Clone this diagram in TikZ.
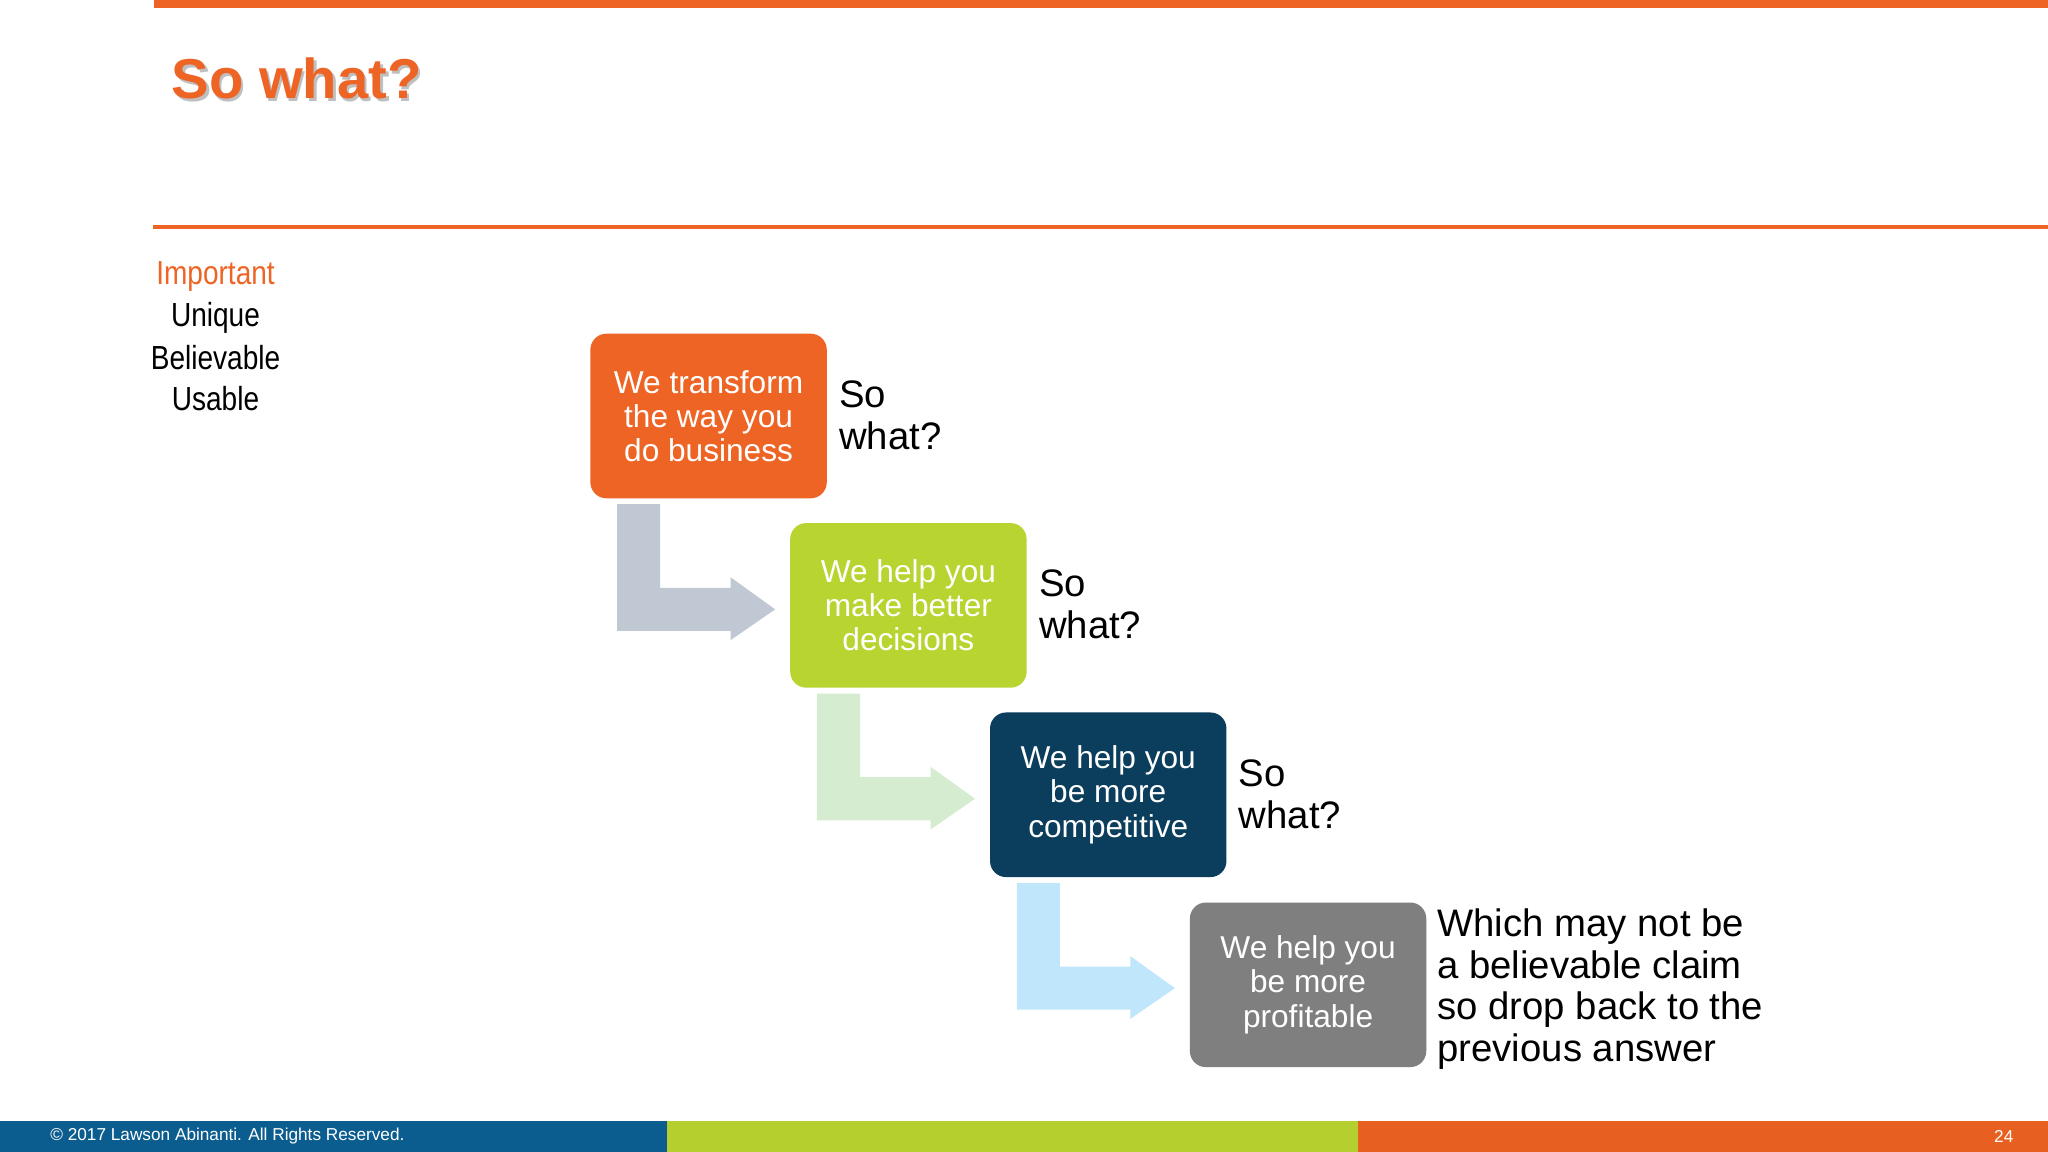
\documentclass[tikz,border=0pt]{standalone}
\usepackage{fontspec}
\setmainfont{Liberation Sans}
\newfontfamily\narrowfont[FakeStretch=0.84]{Liberation Sans}
\usetikzlibrary{positioning}
\definecolor{sworange}{HTML}{EE6425}
\definecolor{swgreen}{HTML}{B8D431}
\definecolor{swnavy}{HTML}{0B3D5C}
\definecolor{swgrey}{HTML}{7F7F80}
\definecolor{fblue}{HTML}{0B5D8F}
\definecolor{fgreen}{HTML}{B5CF2E}
\definecolor{forange}{HTML}{E85F22}
\tikzset{
  stage/.style={rectangle, rounded corners=0.16cm, minimum width=2.364cm, minimum height=1.646cm,
    align=center, text=white, font=\fontsize{9pt}{9.7pt}\selectfont, inner sep=0pt},
  ask/.style={align=left, anchor=north west, inner sep=0pt, font=\fontsize{10.9pt}{11.9pt}\selectfont},
  quality/.style={font=\narrowfont\fontsize{9.5pt}{11pt}\selectfont},
  bend/.pic={
    \fill (21,4) -- (54,4) -- (54,68) -- (108,68) -- (108,60) -- (142,84.5)
      -- (108,108) -- (108,101) -- (21,101) -- cycle;
  }
}
\begin{document}
\begin{tikzpicture}[x=0.013061cm, y=-0.013061cm]
    \useasboundingbox (0,0) rectangle (1568,882);
    \fill[white] (0,0) rectangle (1568,882);
    % header
    \fill[sworange] (118,0) rectangle (1568,6);
    \fill[sworange] (117,172) rectangle (1568,175);
    \node (title) [anchor=west, inner sep=0pt, text=black!25, font=\fontsize{16pt}{19pt}\selectfont\bfseries] at (133,62) {So what?};
    \node (titletop) [anchor=west, inner sep=0pt, text=sworange, font=\fontsize{16pt}{19pt}\selectfont\bfseries] at (131,60) {So what?};
    % list
    \node (important) [quality, text=sworange] at (165,212) {Important};
    \node (unique) [quality] at (165,243) {Unique};
    \node (believable) [quality] at (165,274) {Believable};
    \node (usable) [quality] at (165,305) {Usable};
    % stages
    \node (transform) [stage, fill=sworange] at (542.5,318.5) {We transform\\the way you\\do business};
    \node (decide) [stage, fill=swgreen] at (695.5,463.5) {We help you\\make better\\decisions};
    \node (compete) [stage, fill=swnavy] at (848.5,608.5) {We help you\\be more\\competitive};
    \node (profit) [stage, fill=swgrey] at (1001.5,754) {We help you\\be more\\profitable};
    \node (ask1) [ask] at (642,291) {So\\what?};
    \node (ask2) [ask] at (795,436) {So\\what?};
    \node (ask3) [ask] at (948,581) {So\\what?};
    \node (claim) [ask] at (1100,695) {Which may not be\\a believable claim\\so drop back to the\\previous answer};
    % arrows
    \pic[fill={rgb,255:red,192;green,200;blue,212}] at (transform.south west) {bend};
    \pic[fill={rgb,255:red,213;green,236;blue,208}] at (decide.south west) {bend};
    \pic[fill={rgb,255:red,191;green,230;blue,251}] at (compete.south west) {bend};
    % footer
    \fill[fblue] (0,858) rectangle (511,882);
    \fill[fgreen] (511,858) rectangle (1040,882);
    \fill[forange] (1040,858) rectangle (1568,882);
    \node (copy) [anchor=west, inner sep=0pt, text=white, font=\fontsize{4.9pt}{5pt}\selectfont] at (38,870) {© 2017 Lawson Abinanti. All Rights Reserved.};
    \node (page) [anchor=east, inner sep=0pt, text=white, font=\fontsize{4.9pt}{5pt}\selectfont] at (1542,870) {24};
\end{tikzpicture}
\end{document}
